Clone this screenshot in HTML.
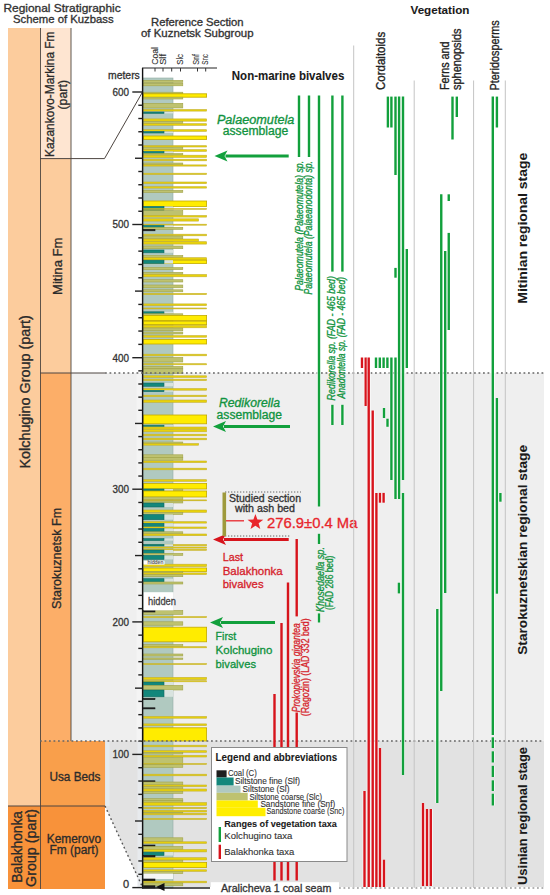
<!DOCTYPE html>
<html><head><meta charset="utf-8"><style>
html,body{margin:0;padding:0;background:#fff;}
svg{display:block;font-family:"Liberation Sans", sans-serif;}
</style></head><body>
<svg width="550" height="895" viewBox="0 0 550 895">
<rect width="550" height="895" fill="#fff"/>
<rect x="71" y="373" width="473" height="368" fill="#efefef" />
<polygon points="105,741 544,741 544,887 142,887 105,806" fill="#e2e2e2"/>
<rect x="136.5" y="373" width="6" height="368" fill="#f4f4f4" />
<rect x="137.5" y="741" width="5" height="146" fill="#e7eaed" />
<rect x="8" y="28" width="32" height="778" fill="#fccc9d" />
<rect x="8" y="806" width="32" height="83" fill="#f8923a" />
<rect x="40" y="28" width="31" height="130.6" fill="#fee5d1" />
<rect x="40" y="158.6" width="31" height="214.4" fill="#fccc9d" />
<rect x="40" y="373" width="31" height="368" fill="#fcae68" />
<rect x="40" y="741" width="65" height="65" fill="#f99f4b" />
<rect x="40" y="806" width="65" height="83" fill="#f8923a" />
<line x1="40.5" y1="28" x2="40.5" y2="889" stroke="#4d4540" stroke-width="0.9" />
<line x1="71" y1="28" x2="71" y2="741" stroke="#4d4540" stroke-width="0.9" />
<rect x="105.5" y="741.5" width="4" height="64.5" fill="#e4ebee" />
<line x1="40" y1="158.6" x2="104.5" y2="158.6" stroke="#4d4540" stroke-width="1" />
<line x1="104.5" y1="158.6" x2="142.5" y2="92" stroke="#4d4540" stroke-width="1" />
<line x1="40" y1="373" x2="105" y2="373" stroke="#4d4540" stroke-width="1" />
<line x1="8" y1="806" x2="105" y2="806" stroke="#4d4540" stroke-width="1" />
<line x1="105" y1="806" x2="142" y2="886" stroke="#555" stroke-width="1.4" stroke-dasharray="1.8 2.7"/>
<line x1="339" y1="888" x2="544" y2="888" stroke="#666" stroke-width="1.2" stroke-dasharray="1.8 2.7"/>
<text transform="translate(29.7,468.6) rotate(-90)" font-size="14.3" fill="#2b2b2b" stroke="#2b2b2b" stroke-width="0.32" textLength="153.5" lengthAdjust="spacingAndGlyphs" >Kolchugino Group (part)</text>
<text transform="translate(54,157) rotate(-90)" font-size="13" fill="#2b2b2b" stroke="#2b2b2b" stroke-width="0.32" textLength="125.5" lengthAdjust="spacingAndGlyphs" >Kazankovo-Markina Fm</text>
<text transform="translate(67.3,109.5) rotate(-90)" font-size="13" fill="#2b2b2b" stroke="#2b2b2b" stroke-width="0.32" textLength="29.5" lengthAdjust="spacingAndGlyphs" >(part)</text>
<text transform="translate(62,295) rotate(-90)" font-size="12.5" fill="#2b2b2b" stroke="#2b2b2b" stroke-width="0.32" textLength="57.5" lengthAdjust="spacingAndGlyphs" >Mitina Fm</text>
<text transform="translate(61,608.9) rotate(-90)" font-size="12.3" fill="#2b2b2b" stroke="#2b2b2b" stroke-width="0.32" textLength="101" lengthAdjust="spacingAndGlyphs" >Starokuznetsk Fm</text>
<text x="49.5" y="781.3" font-size="12.3" fill="#2b2b2b" stroke="#2b2b2b" stroke-width="0.32" textLength="51" lengthAdjust="spacingAndGlyphs" >Usa Beds</text>
<text x="46.8" y="842.7" font-size="12.3" fill="#2b2b2b" stroke="#2b2b2b" stroke-width="0.32" textLength="54.2" lengthAdjust="spacingAndGlyphs" >Kemerovo</text>
<text x="49.5" y="853.6" font-size="12.3" fill="#2b2b2b" stroke="#2b2b2b" stroke-width="0.32" textLength="49.1" lengthAdjust="spacingAndGlyphs" >Fm (part)</text>
<text transform="translate(22,882.8) rotate(-90)" font-size="14.5" fill="#2b2b2b" stroke="#2b2b2b" stroke-width="0.32" textLength="71.7" lengthAdjust="spacingAndGlyphs" >Balakhonka</text>
<text transform="translate(36.3,887) rotate(-90)" font-size="14.5" fill="#2b2b2b" stroke="#2b2b2b" stroke-width="0.32" textLength="78" lengthAdjust="spacingAndGlyphs" >Group (part)</text>
<text x="3.5" y="11.9" font-size="11" fill="#333" stroke="#333" stroke-width="0.32" textLength="117.2" lengthAdjust="spacingAndGlyphs" >Regional Stratigraphic</text>
<text x="13" y="22.9" font-size="11" fill="#333" stroke="#333" stroke-width="0.32" textLength="100.6" lengthAdjust="spacingAndGlyphs" >Scheme of Kuzbass</text>
<text x="151" y="25.6" font-size="10.5" fill="#333" stroke="#333" stroke-width="0.32" textLength="92.6" lengthAdjust="spacingAndGlyphs" >Reference Section</text>
<text x="141" y="36.9" font-size="10.5" fill="#333" stroke="#333" stroke-width="0.32" textLength="112.5" lengthAdjust="spacingAndGlyphs" >of Kuznetsk Subgroup</text>
<rect x="143.5" y="78" width="29.5" height="810" fill="#b0c9c0" stroke="#93aca4" stroke-width="0.6" />
<rect x="143.5" y="80.4" width="39.3" height="2.0" fill="#bec26f" stroke="#a2a346" stroke-width="0.6" />
<rect x="143.5" y="83.3" width="39.3" height="2.5" fill="#bec26f" stroke="#a2a346" stroke-width="0.6" />
<rect x="143.5" y="92.2" width="39.3" height="1.6" fill="#bec26f" stroke="#a2a346" stroke-width="0.6" />
<rect x="143.5" y="93.8" width="63.1" height="3.4" fill="#ffec00" stroke="#c2ab00" stroke-width="0.8" />
<rect x="143.5" y="97.2" width="39.3" height="1.8" fill="#bec26f" stroke="#a2a346" stroke-width="0.6" />
<rect x="143.5" y="103.3" width="39.3" height="4.7" fill="#bec26f" stroke="#a2a346" stroke-width="0.6" />
<rect x="143.5" y="109.5" width="63.1" height="1.6" fill="#e8d20a" stroke="#c3b02e" stroke-width="0.6" />
<rect x="143.5" y="112.0" width="29.5" height="1.4" fill="#d9e3df" />
<rect x="143.5" y="112.0" width="20.5" height="1.4" fill="#13877b" stroke="#0f6a61" stroke-width="0.6" />
<rect x="143.5" y="118.9" width="63.1" height="2.3" fill="#e8d20a" stroke="#c3b02e" stroke-width="0.6" />
<rect x="143.5" y="121.4" width="39.3" height="2.1" fill="#bec26f" stroke="#a2a346" stroke-width="0.6" />
<rect x="143.5" y="123.7" width="63.1" height="1.6" fill="#e8d20a" stroke="#c3b02e" stroke-width="0.6" />
<rect x="143.5" y="129.7" width="63.1" height="1.6" fill="#e8d20a" stroke="#c3b02e" stroke-width="0.6" />
<rect x="143.5" y="131.6" width="29.5" height="1.4" fill="#d9e3df" />
<rect x="143.5" y="131.6" width="20.5" height="1.4" fill="#13877b" stroke="#0f6a61" stroke-width="0.6" />
<rect x="143.5" y="136.0" width="63.1" height="3.4" fill="#ffec00" stroke="#c2ab00" stroke-width="0.8" />
<rect x="143.5" y="145.7" width="63.1" height="1.3" fill="#e8d20a" stroke="#c3b02e" stroke-width="0.6" />
<rect x="143.5" y="147.2" width="39.3" height="2.3" fill="#bec26f" stroke="#a2a346" stroke-width="0.6" />
<rect x="143.5" y="149.7" width="63.1" height="1.6" fill="#e8d20a" stroke="#c3b02e" stroke-width="0.6" />
<rect x="143.5" y="151.5" width="29.5" height="2.0" fill="#d9e3df" />
<rect x="143.5" y="151.5" width="20.5" height="2.0" fill="#13877b" stroke="#0f6a61" stroke-width="0.6" />
<rect x="143.5" y="153.5" width="39.3" height="1.5" fill="#bec26f" stroke="#a2a346" stroke-width="0.6" />
<rect x="143.5" y="155.2" width="63.1" height="2.2" fill="#e8d20a" stroke="#c3b02e" stroke-width="0.6" />
<rect x="143.5" y="159.2" width="63.1" height="1.6" fill="#e8d20a" stroke="#c3b02e" stroke-width="0.6" />
<rect x="143.5" y="163.0" width="39.3" height="1.7" fill="#bec26f" stroke="#a2a346" stroke-width="0.6" />
<rect x="143.5" y="164.9" width="63.1" height="1.2" fill="#e8d20a" stroke="#c3b02e" stroke-width="0.6" />
<rect x="143.5" y="173.2" width="63.1" height="1.3" fill="#e8d20a" stroke="#c3b02e" stroke-width="0.6" />
<rect x="143.5" y="182.0" width="63.1" height="1.6" fill="#e8d20a" stroke="#c3b02e" stroke-width="0.6" />
<rect x="143.5" y="186.7" width="63.1" height="1.4" fill="#e8d20a" stroke="#c3b02e" stroke-width="0.6" />
<rect x="143.5" y="190.4" width="39.3" height="2.0" fill="#bec26f" stroke="#a2a346" stroke-width="0.6" />
<rect x="143.5" y="201.0" width="63.1" height="5.5" fill="#ffec00" stroke="#c2ab00" stroke-width="0.8" />
<rect x="143.5" y="206.5" width="29.5" height="4.1" fill="#d9e3df" />
<rect x="143.5" y="206.5" width="20.5" height="4.1" fill="#13877b" stroke="#0f6a61" stroke-width="0.6" />
<rect x="143.5" y="208.5" width="63.1" height="0.8" fill="#e8d20a" stroke="#c3b02e" stroke-width="0.6" />
<rect x="143.5" y="210.6" width="39.3" height="4.7" fill="#bec26f" stroke="#a2a346" stroke-width="0.6" />
<rect x="143.5" y="215.5" width="63.1" height="1.6" fill="#e8d20a" stroke="#c3b02e" stroke-width="0.6" />
<rect x="143.5" y="218.8" width="55.1" height="2.3" fill="#e8d20a" stroke="#c3b02e" stroke-width="0.6" />
<rect x="143.5" y="224.2" width="63.1" height="1.0" fill="#e8d20a" stroke="#c3b02e" stroke-width="0.6" />
<rect x="143.5" y="225.4" width="29.5" height="2.0" fill="#d9e3df" />
<rect x="143.5" y="225.4" width="20.5" height="2.0" fill="#13877b" stroke="#0f6a61" stroke-width="0.6" />
<rect x="143.5" y="227.4" width="39.3" height="2.0" fill="#bec26f" stroke="#a2a346" stroke-width="0.6" />
<rect x="143.5" y="229.4" width="11.5" height="1.4" fill="#1e1e1e" stroke="#111" stroke-width="0.6" />
<rect x="143.5" y="234.2" width="63.1" height="1.6" fill="#e8d20a" stroke="#c3b02e" stroke-width="0.6" />
<rect x="143.5" y="236.0" width="39.3" height="2.8" fill="#bec26f" stroke="#a2a346" stroke-width="0.6" />
<rect x="143.5" y="239.0" width="55.1" height="2.3" fill="#e8d20a" stroke="#c3b02e" stroke-width="0.6" />
<rect x="143.5" y="241.7" width="63.1" height="2.4" fill="#e8d20a" stroke="#c3b02e" stroke-width="0.6" />
<rect x="143.5" y="246.0" width="39.3" height="2.7" fill="#bec26f" stroke="#a2a346" stroke-width="0.6" />
<rect x="143.5" y="250.0" width="29.5" height="2.8" fill="#d9e3df" />
<rect x="143.5" y="250.0" width="20.5" height="2.8" fill="#13877b" stroke="#0f6a61" stroke-width="0.6" />
<rect x="143.5" y="255.5" width="39.3" height="2.0" fill="#bec26f" stroke="#a2a346" stroke-width="0.6" />
<rect x="143.5" y="257.7" width="63.1" height="2.3" fill="#e8d20a" stroke="#c3b02e" stroke-width="0.6" />
<rect x="143.5" y="260.2" width="63.1" height="3.3" fill="#ffec00" stroke="#c2ab00" stroke-width="0.8" />
<rect x="143.5" y="260.2" width="29.5" height="3.3" fill="#d9e3df" />
<rect x="143.5" y="260.2" width="20.5" height="3.3" fill="#13877b" stroke="#0f6a61" stroke-width="0.6" />
<rect x="143.5" y="267.6" width="39.3" height="2.0" fill="#bec26f" stroke="#a2a346" stroke-width="0.6" />
<rect x="143.5" y="272.3" width="39.3" height="2.0" fill="#bec26f" stroke="#a2a346" stroke-width="0.6" />
<rect x="143.5" y="274.5" width="63.1" height="2.3" fill="#e8d20a" stroke="#c3b02e" stroke-width="0.6" />
<rect x="143.5" y="279.7" width="39.3" height="2.3" fill="#bec26f" stroke="#a2a346" stroke-width="0.6" />
<rect x="143.5" y="285.0" width="39.3" height="2.8" fill="#bec26f" stroke="#a2a346" stroke-width="0.6" />
<rect x="143.5" y="289.8" width="39.3" height="2.0" fill="#bec26f" stroke="#a2a346" stroke-width="0.6" />
<rect x="143.5" y="293.4" width="63.1" height="1.2" fill="#e8d20a" stroke="#c3b02e" stroke-width="0.6" />
<rect x="143.5" y="303.9" width="63.1" height="1.7" fill="#e8d20a" stroke="#c3b02e" stroke-width="0.6" />
<rect x="143.5" y="308.0" width="63.1" height="0.9" fill="#e8d20a" stroke="#c3b02e" stroke-width="0.6" />
<rect x="143.5" y="311.8" width="29.5" height="2.0" fill="#d9e3df" />
<rect x="143.5" y="311.8" width="20.5" height="2.0" fill="#13877b" stroke="#0f6a61" stroke-width="0.6" />
<rect x="143.5" y="313.8" width="39.3" height="1.7" fill="#bec26f" stroke="#a2a346" stroke-width="0.6" />
<rect x="143.5" y="315.5" width="63.1" height="5.1" fill="#ffec00" stroke="#c2ab00" stroke-width="0.8" />
<rect x="143.5" y="321.2" width="63.1" height="3.4" fill="#ffec00" stroke="#c2ab00" stroke-width="0.8" />
<rect x="143.5" y="325.2" width="63.1" height="2.6" fill="#e8d20a" stroke="#c3b02e" stroke-width="0.6" />
<rect x="143.5" y="328.0" width="39.3" height="2.7" fill="#bec26f" stroke="#a2a346" stroke-width="0.6" />
<rect x="143.5" y="332.0" width="39.3" height="2.0" fill="#bec26f" stroke="#a2a346" stroke-width="0.6" />
<rect x="143.5" y="335.6" width="63.1" height="1.6" fill="#e8d20a" stroke="#c3b02e" stroke-width="0.6" />
<rect x="143.5" y="339.4" width="63.1" height="4.6" fill="#ffec00" stroke="#c2ab00" stroke-width="0.8" />
<rect x="143.5" y="354.2" width="63.1" height="1.6" fill="#e8d20a" stroke="#c3b02e" stroke-width="0.6" />
<rect x="143.5" y="357.4" width="39.3" height="4.6" fill="#bec26f" stroke="#a2a346" stroke-width="0.6" />
<rect x="143.5" y="363.7" width="63.1" height="1.1" fill="#e8d20a" stroke="#c3b02e" stroke-width="0.6" />
<rect x="143.5" y="366.4" width="39.3" height="2.4" fill="#bec26f" stroke="#a2a346" stroke-width="0.6" />
<rect x="143.5" y="368.8" width="39.3" height="4.7" fill="#bec26f" stroke="#a2a346" stroke-width="0.6" />
<rect x="143.5" y="375.8" width="63.1" height="1.6" fill="#e8d20a" stroke="#c3b02e" stroke-width="0.6" />
<rect x="143.5" y="379.2" width="63.1" height="1.3" fill="#e8d20a" stroke="#c3b02e" stroke-width="0.6" />
<rect x="143.5" y="383.0" width="29.5" height="3.3" fill="#d9e3df" />
<rect x="143.5" y="383.0" width="20.5" height="3.3" fill="#13877b" stroke="#0f6a61" stroke-width="0.6" />
<rect x="143.5" y="388.6" width="63.1" height="1.6" fill="#e8d20a" stroke="#c3b02e" stroke-width="0.6" />
<rect x="143.5" y="390.4" width="29.5" height="1.3" fill="#d9e3df" />
<rect x="143.5" y="390.4" width="20.5" height="1.3" fill="#13877b" stroke="#0f6a61" stroke-width="0.6" />
<rect x="143.5" y="395.2" width="63.1" height="1.4" fill="#e8d20a" stroke="#c3b02e" stroke-width="0.6" />
<rect x="143.5" y="400.0" width="63.1" height="2.3" fill="#e8d20a" stroke="#c3b02e" stroke-width="0.6" />
<rect x="143.5" y="415.0" width="63.1" height="8.8" fill="#ffec00" stroke="#c2ab00" stroke-width="0.8" />
<rect x="143.5" y="425.2" width="29.5" height="1.6" fill="#d9e3df" />
<rect x="143.5" y="425.2" width="20.5" height="1.6" fill="#13877b" stroke="#0f6a61" stroke-width="0.6" />
<rect x="143.5" y="427.0" width="63.1" height="2.0" fill="#e8d20a" stroke="#c3b02e" stroke-width="0.6" />
<rect x="143.5" y="429.4" width="63.1" height="2.4" fill="#e8d20a" stroke="#c3b02e" stroke-width="0.6" />
<rect x="143.5" y="434.2" width="63.1" height="1.6" fill="#e8d20a" stroke="#c3b02e" stroke-width="0.6" />
<rect x="143.5" y="438.2" width="63.1" height="1.6" fill="#e8d20a" stroke="#c3b02e" stroke-width="0.6" />
<rect x="143.5" y="442.0" width="39.3" height="1.4" fill="#bec26f" stroke="#a2a346" stroke-width="0.6" />
<rect x="143.5" y="443.6" width="55.1" height="1.6" fill="#e8d20a" stroke="#c3b02e" stroke-width="0.6" />
<rect x="143.5" y="454.8" width="39.3" height="2.7" fill="#bec26f" stroke="#a2a346" stroke-width="0.6" />
<rect x="143.5" y="457.5" width="39.3" height="2.7" fill="#bec26f" stroke="#a2a346" stroke-width="0.6" />
<rect x="143.5" y="461.0" width="63.1" height="1.6" fill="#e8d20a" stroke="#c3b02e" stroke-width="0.6" />
<rect x="143.5" y="468.2" width="63.1" height="1.6" fill="#e8d20a" stroke="#c3b02e" stroke-width="0.6" />
<rect x="143.5" y="479.7" width="63.1" height="1.6" fill="#e8d20a" stroke="#c3b02e" stroke-width="0.6" />
<rect x="143.5" y="483.5" width="63.1" height="5.5" fill="#ffec00" stroke="#c2ab00" stroke-width="0.8" />
<rect x="143.5" y="489.0" width="39.3" height="2.0" fill="#bec26f" stroke="#a2a346" stroke-width="0.6" />
<rect x="143.5" y="489.0" width="29.5" height="2.0" fill="#d9e3df" />
<rect x="143.5" y="489.0" width="20.5" height="2.0" fill="#13877b" stroke="#0f6a61" stroke-width="0.6" />
<rect x="143.5" y="491.0" width="63.1" height="6.0" fill="#ffec00" stroke="#c2ab00" stroke-width="0.8" />
<rect x="143.5" y="497.0" width="39.3" height="2.7" fill="#bec26f" stroke="#a2a346" stroke-width="0.6" />
<rect x="143.5" y="499.9" width="63.1" height="0.9" fill="#e8d20a" stroke="#c3b02e" stroke-width="0.6" />
<rect x="143.5" y="501.0" width="39.3" height="2.0" fill="#bec26f" stroke="#a2a346" stroke-width="0.6" />
<rect x="143.5" y="503.0" width="29.5" height="4.0" fill="#d9e3df" />
<rect x="143.5" y="503.0" width="20.5" height="4.0" fill="#13877b" stroke="#0f6a61" stroke-width="0.6" />
<rect x="143.5" y="510.0" width="63.1" height="2.3" fill="#e8d20a" stroke="#c3b02e" stroke-width="0.6" />
<rect x="143.5" y="512.5" width="39.3" height="2.0" fill="#bec26f" stroke="#a2a346" stroke-width="0.6" />
<rect x="143.5" y="514.5" width="29.5" height="5.2" fill="#d9e3df" />
<rect x="143.5" y="514.5" width="20.5" height="5.2" fill="#13877b" stroke="#0f6a61" stroke-width="0.6" />
<rect x="143.5" y="521.7" width="63.1" height="1.4" fill="#e8d20a" stroke="#c3b02e" stroke-width="0.6" />
<rect x="143.5" y="523.3" width="29.5" height="3.5" fill="#d9e3df" />
<rect x="143.5" y="523.3" width="20.5" height="3.5" fill="#13877b" stroke="#0f6a61" stroke-width="0.6" />
<rect x="143.5" y="527.0" width="63.1" height="1.3" fill="#e8d20a" stroke="#c3b02e" stroke-width="0.6" />
<rect x="143.5" y="528.5" width="29.5" height="3.3" fill="#d9e3df" />
<rect x="143.5" y="528.5" width="20.5" height="3.3" fill="#13877b" stroke="#0f6a61" stroke-width="0.6" />
<rect x="143.5" y="531.8" width="39.3" height="2.0" fill="#bec26f" stroke="#a2a346" stroke-width="0.6" />
<rect x="143.5" y="534.0" width="63.1" height="1.7" fill="#e8d20a" stroke="#c3b02e" stroke-width="0.6" />
<rect x="143.5" y="538.5" width="29.5" height="2.1" fill="#d9e3df" />
<rect x="143.5" y="538.5" width="20.5" height="2.1" fill="#13877b" stroke="#0f6a61" stroke-width="0.6" />
<rect x="143.5" y="544.5" width="63.1" height="1.3" fill="#e8d20a" stroke="#c3b02e" stroke-width="0.6" />
<rect x="143.5" y="544.3" width="29.5" height="1.7" fill="#d9e3df" />
<rect x="143.5" y="544.3" width="20.5" height="1.7" fill="#13877b" stroke="#0f6a61" stroke-width="0.6" />
<rect x="143.5" y="547.0" width="63.1" height="1.1" fill="#e8d20a" stroke="#c3b02e" stroke-width="0.6" />
<rect x="143.5" y="549.2" width="63.1" height="1.1" fill="#e8d20a" stroke="#c3b02e" stroke-width="0.6" />
<rect x="143.5" y="550.0" width="29.5" height="3.4" fill="#d9e3df" />
<rect x="143.5" y="550.0" width="20.5" height="3.4" fill="#13877b" stroke="#0f6a61" stroke-width="0.6" />
<rect x="143.5" y="553.4" width="39.3" height="2.0" fill="#bec26f" stroke="#a2a346" stroke-width="0.6" />
<rect x="143.5" y="555.4" width="29.5" height="4.0" fill="#d9e3df" />
<rect x="143.5" y="555.4" width="20.5" height="4.0" fill="#13877b" stroke="#0f6a61" stroke-width="0.6" />
<rect x="143.5" y="564.2" width="63.1" height="2.4" fill="#e8d20a" stroke="#c3b02e" stroke-width="0.6" />
<rect x="143.5" y="568.0" width="63.1" height="3.5" fill="#ffec00" stroke="#c2ab00" stroke-width="0.8" />
<rect x="143.5" y="571.5" width="39.3" height="1.2" fill="#bec26f" stroke="#a2a346" stroke-width="0.6" />
<rect x="143.5" y="572.9" width="63.1" height="1.6" fill="#e8d20a" stroke="#c3b02e" stroke-width="0.6" />
<rect x="143.5" y="574.7" width="39.3" height="2.0" fill="#bec26f" stroke="#a2a346" stroke-width="0.6" />
<rect x="143.5" y="578.7" width="29.5" height="3.3" fill="#d9e3df" />
<rect x="143.5" y="578.7" width="20.5" height="3.3" fill="#13877b" stroke="#0f6a61" stroke-width="0.6" />
<rect x="143.5" y="582.0" width="39.3" height="2.0" fill="#bec26f" stroke="#a2a346" stroke-width="0.6" />
<rect x="143.5" y="610.4" width="39.3" height="4.0" fill="#bec26f" stroke="#a2a346" stroke-width="0.6" />
<rect x="143.5" y="610.4" width="11.5" height="1.6" fill="#1e1e1e" stroke="#111" stroke-width="0.6" />
<rect x="143.5" y="616.6" width="63.1" height="1.0" fill="#e8d20a" stroke="#c3b02e" stroke-width="0.6" />
<rect x="143.5" y="621.8" width="39.3" height="3.4" fill="#bec26f" stroke="#a2a346" stroke-width="0.6" />
<rect x="143.5" y="627.2" width="63.1" height="14.6" fill="#ffec00" stroke="#c2ab00" stroke-width="0.8" />
<rect x="143.5" y="644.5" width="39.3" height="2.0" fill="#bec26f" stroke="#a2a346" stroke-width="0.6" />
<rect x="143.5" y="646.7" width="63.1" height="1.1" fill="#e8d20a" stroke="#c3b02e" stroke-width="0.6" />
<rect x="143.5" y="654.0" width="39.3" height="2.0" fill="#bec26f" stroke="#a2a346" stroke-width="0.6" />
<rect x="143.5" y="658.0" width="39.3" height="1.3" fill="#bec26f" stroke="#a2a346" stroke-width="0.6" />
<rect x="143.5" y="663.6" width="63.1" height="0.9" fill="#e8d20a" stroke="#c3b02e" stroke-width="0.6" />
<rect x="143.5" y="677.4" width="63.1" height="2.2" fill="#e8d20a" stroke="#c3b02e" stroke-width="0.6" />
<rect x="143.5" y="680.7" width="63.1" height="1.1" fill="#e8d20a" stroke="#c3b02e" stroke-width="0.6" />
<rect x="143.5" y="682.0" width="29.5" height="3.4" fill="#d9e3df" />
<rect x="143.5" y="682.0" width="20.5" height="3.4" fill="#13877b" stroke="#0f6a61" stroke-width="0.6" />
<rect x="143.5" y="685.4" width="39.3" height="4.6" fill="#bec26f" stroke="#a2a346" stroke-width="0.6" />
<rect x="143.5" y="690.0" width="29.5" height="6.8" fill="#d9e3df" />
<rect x="143.5" y="690.0" width="20.5" height="6.8" fill="#13877b" stroke="#0f6a61" stroke-width="0.6" />
<rect x="143.5" y="698.4" width="11.5" height="1.2" fill="#1e1e1e" stroke="#111" stroke-width="0.6" />
<rect x="143.5" y="707.8" width="11.5" height="1.1" fill="#1e1e1e" stroke="#111" stroke-width="0.6" />
<rect x="143.5" y="716.5" width="63.1" height="1.7" fill="#e8d20a" stroke="#c3b02e" stroke-width="0.6" />
<rect x="143.5" y="723.9" width="63.1" height="1.7" fill="#e8d20a" stroke="#c3b02e" stroke-width="0.6" />
<rect x="143.5" y="727.8" width="63.1" height="13.2" fill="#ffec00" stroke="#c2ab00" stroke-width="0.8" />
<rect x="143.5" y="745.2" width="63.1" height="1.6" fill="#e8d20a" stroke="#c3b02e" stroke-width="0.6" />
<rect x="143.5" y="750.7" width="63.1" height="1.6" fill="#e8d20a" stroke="#c3b02e" stroke-width="0.6" />
<rect x="143.5" y="752.5" width="39.3" height="1.5" fill="#bec26f" stroke="#a2a346" stroke-width="0.6" />
<rect x="143.5" y="755.4" width="63.1" height="1.6" fill="#e8d20a" stroke="#c3b02e" stroke-width="0.6" />
<rect x="143.5" y="757.2" width="39.3" height="6.1" fill="#bec26f" stroke="#a2a346" stroke-width="0.6" />
<rect x="143.5" y="763.5" width="63.1" height="0.9" fill="#e8d20a" stroke="#c3b02e" stroke-width="0.6" />
<rect x="143.5" y="764.6" width="39.3" height="2.7" fill="#bec26f" stroke="#a2a346" stroke-width="0.6" />
<rect x="143.5" y="774.2" width="63.1" height="1.6" fill="#e8d20a" stroke="#c3b02e" stroke-width="0.6" />
<rect x="143.5" y="780.8" width="11.5" height="1.2" fill="#1e1e1e" stroke="#111" stroke-width="0.6" />
<rect x="143.5" y="782.0" width="39.3" height="2.8" fill="#bec26f" stroke="#a2a346" stroke-width="0.6" />
<rect x="143.5" y="785.0" width="63.1" height="1.6" fill="#e8d20a" stroke="#c3b02e" stroke-width="0.6" />
<rect x="143.5" y="786.8" width="39.3" height="2.0" fill="#bec26f" stroke="#a2a346" stroke-width="0.6" />
<rect x="143.5" y="789.0" width="63.1" height="2.1" fill="#e8d20a" stroke="#c3b02e" stroke-width="0.6" />
<rect x="143.5" y="791.3" width="39.3" height="2.1" fill="#bec26f" stroke="#a2a346" stroke-width="0.6" />
<rect x="143.5" y="798.7" width="39.3" height="2.1" fill="#bec26f" stroke="#a2a346" stroke-width="0.6" />
<rect x="143.5" y="800.8" width="39.3" height="1.6" fill="#bec26f" stroke="#a2a346" stroke-width="0.6" />
<rect x="143.5" y="802.6" width="63.1" height="2.7" fill="#e8d20a" stroke="#c3b02e" stroke-width="0.6" />
<rect x="143.5" y="807.4" width="63.1" height="1.2" fill="#e8d20a" stroke="#c3b02e" stroke-width="0.6" />
<rect x="143.5" y="810.4" width="63.1" height="1.6" fill="#e8d20a" stroke="#c3b02e" stroke-width="0.6" />
<rect x="143.5" y="812.2" width="39.3" height="0.9" fill="#bec26f" stroke="#a2a346" stroke-width="0.6" />
<rect x="143.5" y="813.3" width="63.1" height="1.5" fill="#e8d20a" stroke="#c3b02e" stroke-width="0.6" />
<rect x="143.5" y="818.5" width="63.1" height="0.9" fill="#e8d20a" stroke="#c3b02e" stroke-width="0.6" />
<rect x="143.5" y="837.8" width="39.3" height="3.8" fill="#bec26f" stroke="#a2a346" stroke-width="0.6" />
<rect x="143.5" y="841.8" width="63.1" height="1.6" fill="#e8d20a" stroke="#c3b02e" stroke-width="0.6" />
<rect x="143.5" y="845.0" width="11.5" height="1.5" fill="#1e1e1e" stroke="#111" stroke-width="0.6" />
<rect x="143.5" y="846.5" width="39.3" height="2.9" fill="#bec26f" stroke="#a2a346" stroke-width="0.6" />
<rect x="143.5" y="849.6" width="63.1" height="2.3" fill="#e8d20a" stroke="#c3b02e" stroke-width="0.6" />
<rect x="143.5" y="852.1" width="29.5" height="3.4" fill="#d9e3df" />
<rect x="143.5" y="852.1" width="20.5" height="3.4" fill="#13877b" stroke="#0f6a61" stroke-width="0.6" />
<rect x="143.5" y="855.5" width="11.5" height="2.0" fill="#1e1e1e" stroke="#111" stroke-width="0.6" />
<rect x="143.5" y="857.7" width="63.1" height="2.3" fill="#e8d20a" stroke="#c3b02e" stroke-width="0.6" />
<rect x="143.5" y="860.2" width="39.3" height="2.4" fill="#bec26f" stroke="#a2a346" stroke-width="0.6" />
<rect x="143.5" y="862.6" width="63.1" height="5.0" fill="#ffec00" stroke="#c2ab00" stroke-width="0.8" />
<rect x="143.5" y="869.8" width="63.1" height="1.5" fill="#e8d20a" stroke="#c3b02e" stroke-width="0.6" />
<rect x="143.5" y="871.5" width="39.3" height="2.1" fill="#bec26f" stroke="#a2a346" stroke-width="0.6" />
<rect x="143.5" y="873.6" width="29.5" height="5.399999999999977" fill="#f4f6f5" />
<rect x="143.5" y="879.0" width="11.5" height="2.0" fill="#1e1e1e" stroke="#111" stroke-width="0.6" />
<rect x="143.5" y="881.2" width="63.1" height="1.6" fill="#e8d20a" stroke="#c3b02e" stroke-width="0.6" />
<rect x="143.5" y="883.0" width="39.3" height="2.8" fill="#bec26f" stroke="#a2a346" stroke-width="0.6" />
<rect x="143.5" y="885.8" width="11.5" height="2.2" fill="#1e1e1e" stroke="#111" stroke-width="0.6" />
<rect x="143.5" y="592.2" width="30.0" height="18.2" fill="#ffffff" />
<text x="148" y="605" font-size="11" fill="#444" stroke="#444" stroke-width="0.32" textLength="28" lengthAdjust="spacingAndGlyphs" >hidden</text>
<rect x="143.5" y="560.8" width="21" height="3.8" fill="#ffffff" />
<text x="147.5" y="564.2" font-size="4.5" fill="#555" stroke="#555" stroke-width="0.12" textLength="16" lengthAdjust="spacingAndGlyphs" >hidden</text>
<line x1="142.6" y1="68" x2="142.6" y2="888.5" stroke="#111" stroke-width="1.4" />
<line x1="142" y1="68" x2="217" y2="68" stroke="#222" stroke-width="1" />
<line x1="142" y1="888" x2="210" y2="888" stroke="#222" stroke-width="1.4" />
<line x1="155" y1="68" x2="155" y2="71.5" stroke="#333" stroke-width="1" />
<line x1="163" y1="68" x2="163" y2="71.5" stroke="#333" stroke-width="1" />
<line x1="171.7" y1="68" x2="171.7" y2="71.5" stroke="#333" stroke-width="1" />
<line x1="180.5" y1="68" x2="180.5" y2="71.5" stroke="#333" stroke-width="1" />
<line x1="197.5" y1="68" x2="197.5" y2="71.5" stroke="#333" stroke-width="1" />
<line x1="205.7" y1="68" x2="205.7" y2="71.5" stroke="#333" stroke-width="1" />
<line x1="132.3" y1="887.6" x2="142.6" y2="887.6" stroke="#222" stroke-width="1.4" />
<line x1="138.3" y1="874.28" x2="142.6" y2="874.28" stroke="#222" stroke-width="1.4" />
<line x1="138.3" y1="860.96" x2="142.6" y2="860.96" stroke="#222" stroke-width="1.4" />
<line x1="138.3" y1="847.64" x2="142.6" y2="847.64" stroke="#222" stroke-width="1.4" />
<line x1="138.3" y1="834.32" x2="142.6" y2="834.32" stroke="#222" stroke-width="1.4" />
<line x1="135" y1="821.0" x2="142.6" y2="821.0" stroke="#222" stroke-width="1.4" />
<line x1="138.3" y1="807.68" x2="142.6" y2="807.68" stroke="#222" stroke-width="1.4" />
<line x1="138.3" y1="794.36" x2="142.6" y2="794.36" stroke="#222" stroke-width="1.4" />
<line x1="138.3" y1="781.04" x2="142.6" y2="781.04" stroke="#222" stroke-width="1.4" />
<line x1="138.3" y1="767.72" x2="142.6" y2="767.72" stroke="#222" stroke-width="1.4" />
<line x1="132.3" y1="754.4" x2="142.6" y2="754.4" stroke="#222" stroke-width="1.4" />
<line x1="138.3" y1="741.15" x2="142.6" y2="741.15" stroke="#222" stroke-width="1.4" />
<line x1="138.3" y1="727.9" x2="142.6" y2="727.9" stroke="#222" stroke-width="1.4" />
<line x1="138.3" y1="714.65" x2="142.6" y2="714.65" stroke="#222" stroke-width="1.4" />
<line x1="138.3" y1="701.4" x2="142.6" y2="701.4" stroke="#222" stroke-width="1.4" />
<line x1="135" y1="688.15" x2="142.6" y2="688.15" stroke="#222" stroke-width="1.4" />
<line x1="138.3" y1="674.9" x2="142.6" y2="674.9" stroke="#222" stroke-width="1.4" />
<line x1="138.3" y1="661.65" x2="142.6" y2="661.65" stroke="#222" stroke-width="1.4" />
<line x1="138.3" y1="648.4" x2="142.6" y2="648.4" stroke="#222" stroke-width="1.4" />
<line x1="138.3" y1="635.15" x2="142.6" y2="635.15" stroke="#222" stroke-width="1.4" />
<line x1="132.3" y1="621.9" x2="142.6" y2="621.9" stroke="#222" stroke-width="1.4" />
<line x1="138.3" y1="608.63" x2="142.6" y2="608.63" stroke="#222" stroke-width="1.4" />
<line x1="138.3" y1="595.36" x2="142.6" y2="595.36" stroke="#222" stroke-width="1.4" />
<line x1="138.3" y1="582.09" x2="142.6" y2="582.09" stroke="#222" stroke-width="1.4" />
<line x1="138.3" y1="568.82" x2="142.6" y2="568.82" stroke="#222" stroke-width="1.4" />
<line x1="135" y1="555.55" x2="142.6" y2="555.55" stroke="#222" stroke-width="1.4" />
<line x1="138.3" y1="542.28" x2="142.6" y2="542.28" stroke="#222" stroke-width="1.4" />
<line x1="138.3" y1="529.01" x2="142.6" y2="529.01" stroke="#222" stroke-width="1.4" />
<line x1="138.3" y1="515.74" x2="142.6" y2="515.74" stroke="#222" stroke-width="1.4" />
<line x1="138.3" y1="502.47" x2="142.6" y2="502.47" stroke="#222" stroke-width="1.4" />
<line x1="132.3" y1="489.2" x2="142.6" y2="489.2" stroke="#222" stroke-width="1.4" />
<line x1="138.3" y1="476.05" x2="142.6" y2="476.05" stroke="#222" stroke-width="1.4" />
<line x1="138.3" y1="462.9" x2="142.6" y2="462.9" stroke="#222" stroke-width="1.4" />
<line x1="138.3" y1="449.75" x2="142.6" y2="449.75" stroke="#222" stroke-width="1.4" />
<line x1="138.3" y1="436.6" x2="142.6" y2="436.6" stroke="#222" stroke-width="1.4" />
<line x1="135" y1="423.45" x2="142.6" y2="423.45" stroke="#222" stroke-width="1.4" />
<line x1="138.3" y1="410.3" x2="142.6" y2="410.3" stroke="#222" stroke-width="1.4" />
<line x1="138.3" y1="397.15" x2="142.6" y2="397.15" stroke="#222" stroke-width="1.4" />
<line x1="138.3" y1="384.0" x2="142.6" y2="384.0" stroke="#222" stroke-width="1.4" />
<line x1="138.3" y1="370.85" x2="142.6" y2="370.85" stroke="#222" stroke-width="1.4" />
<line x1="132.3" y1="357.7" x2="142.6" y2="357.7" stroke="#222" stroke-width="1.4" />
<line x1="138.3" y1="344.38" x2="142.6" y2="344.38" stroke="#222" stroke-width="1.4" />
<line x1="138.3" y1="331.06" x2="142.6" y2="331.06" stroke="#222" stroke-width="1.4" />
<line x1="138.3" y1="317.74" x2="142.6" y2="317.74" stroke="#222" stroke-width="1.4" />
<line x1="138.3" y1="304.42" x2="142.6" y2="304.42" stroke="#222" stroke-width="1.4" />
<line x1="135" y1="291.1" x2="142.6" y2="291.1" stroke="#222" stroke-width="1.4" />
<line x1="138.3" y1="277.78" x2="142.6" y2="277.78" stroke="#222" stroke-width="1.4" />
<line x1="138.3" y1="264.46" x2="142.6" y2="264.46" stroke="#222" stroke-width="1.4" />
<line x1="138.3" y1="251.14" x2="142.6" y2="251.14" stroke="#222" stroke-width="1.4" />
<line x1="138.3" y1="237.82" x2="142.6" y2="237.82" stroke="#222" stroke-width="1.4" />
<line x1="132.3" y1="224.5" x2="142.6" y2="224.5" stroke="#222" stroke-width="1.4" />
<line x1="138.3" y1="211.25" x2="142.6" y2="211.25" stroke="#222" stroke-width="1.4" />
<line x1="138.3" y1="198.0" x2="142.6" y2="198.0" stroke="#222" stroke-width="1.4" />
<line x1="138.3" y1="184.75" x2="142.6" y2="184.75" stroke="#222" stroke-width="1.4" />
<line x1="138.3" y1="171.5" x2="142.6" y2="171.5" stroke="#222" stroke-width="1.4" />
<line x1="135" y1="158.25" x2="142.6" y2="158.25" stroke="#222" stroke-width="1.4" />
<line x1="138.3" y1="145.0" x2="142.6" y2="145.0" stroke="#222" stroke-width="1.4" />
<line x1="138.3" y1="131.75" x2="142.6" y2="131.75" stroke="#222" stroke-width="1.4" />
<line x1="138.3" y1="118.5" x2="142.6" y2="118.5" stroke="#222" stroke-width="1.4" />
<line x1="138.3" y1="105.25" x2="142.6" y2="105.25" stroke="#222" stroke-width="1.4" />
<line x1="132.3" y1="92.0" x2="142.6" y2="92.0" stroke="#222" stroke-width="1.4" />
<text x="129" y="888.3" font-size="11" fill="#333" stroke="#333" stroke-width="0.32" text-anchor="end" >0</text>
<text x="129" y="758.3" font-size="11" fill="#333" stroke="#333" stroke-width="0.32" text-anchor="end" textLength="16.5" lengthAdjust="spacingAndGlyphs" >100</text>
<text x="129" y="625.8" font-size="11" fill="#333" stroke="#333" stroke-width="0.32" text-anchor="end" textLength="16.5" lengthAdjust="spacingAndGlyphs" >200</text>
<text x="129" y="493.09999999999997" font-size="11" fill="#333" stroke="#333" stroke-width="0.32" text-anchor="end" textLength="16.5" lengthAdjust="spacingAndGlyphs" >300</text>
<text x="129" y="361.59999999999997" font-size="11" fill="#333" stroke="#333" stroke-width="0.32" text-anchor="end" textLength="16.5" lengthAdjust="spacingAndGlyphs" >400</text>
<text x="129" y="228.4" font-size="11" fill="#333" stroke="#333" stroke-width="0.32" text-anchor="end" textLength="16.5" lengthAdjust="spacingAndGlyphs" >500</text>
<text x="129" y="95.9" font-size="11" fill="#333" stroke="#333" stroke-width="0.32" text-anchor="end" textLength="16.5" lengthAdjust="spacingAndGlyphs" >600</text>
<text x="108" y="79.3" font-size="11" fill="#333" stroke="#333" stroke-width="0.32" textLength="31.8" lengthAdjust="spacingAndGlyphs" >meters</text>
<text transform="translate(158,64.8) rotate(-90)" font-size="9" fill="#333" stroke="#333" stroke-width="0.12" textLength="17.8" lengthAdjust="spacingAndGlyphs" >Coal</text>
<text transform="translate(166.3,64.8) rotate(-90)" font-size="9" fill="#333" stroke="#333" stroke-width="0.12" textLength="10.8" lengthAdjust="spacingAndGlyphs" >Slf</text>
<text transform="translate(183.2,64.8) rotate(-90)" font-size="9" fill="#333" stroke="#333" stroke-width="0.12" textLength="10.8" lengthAdjust="spacingAndGlyphs" >Slc</text>
<text transform="translate(199,64.8) rotate(-90)" font-size="9" fill="#333" stroke="#333" stroke-width="0.12" textLength="10.8" lengthAdjust="spacingAndGlyphs" >Snf</text>
<text transform="translate(207.7,64.8) rotate(-90)" font-size="9" fill="#333" stroke="#333" stroke-width="0.12" textLength="10.8" lengthAdjust="spacingAndGlyphs" >Snc</text>
<polygon points="156,887 164.5,883 164.5,891" fill="#111"/>
<line x1="105" y1="373" x2="544" y2="373" stroke="#666" stroke-width="1.3" stroke-dasharray="1.8 2.7"/>
<line x1="40" y1="741" x2="544" y2="741" stroke="#666" stroke-width="1.3" stroke-dasharray="1.8 2.7"/>
<text x="231.8" y="79.7" font-size="12" fill="#1a1a1a" stroke="#1a1a1a" stroke-width="0.08" font-weight="bold" textLength="112.5" lengthAdjust="spacingAndGlyphs" >Non-marine bivalves</text>
<line x1="299" y1="95.5" x2="299" y2="157" stroke="#ffffff" stroke-width="3.8" opacity="0.85"/>
<line x1="299" y1="95.5" x2="299" y2="157" stroke="#12a03c" stroke-width="2.4" />
<line x1="309" y1="95.5" x2="309" y2="157" stroke="#ffffff" stroke-width="3.8" opacity="0.85"/>
<line x1="309" y1="95.5" x2="309" y2="157" stroke="#12a03c" stroke-width="2.4" />
<line x1="319" y1="95.5" x2="319" y2="506.5" stroke="#ffffff" stroke-width="3.8" opacity="0.85"/>
<line x1="319" y1="95.5" x2="319" y2="506.5" stroke="#12a03c" stroke-width="2.4" />
<line x1="332.4" y1="95.5" x2="332.4" y2="271.6" stroke="#ffffff" stroke-width="3.8" opacity="0.85"/>
<line x1="332.4" y1="95.5" x2="332.4" y2="271.6" stroke="#12a03c" stroke-width="2.4" />
<line x1="332.4" y1="404.8" x2="332.4" y2="425" stroke="#ffffff" stroke-width="3.8" opacity="0.85"/>
<line x1="332.4" y1="404.8" x2="332.4" y2="425" stroke="#12a03c" stroke-width="2.4" />
<line x1="342.4" y1="95.5" x2="342.4" y2="271.6" stroke="#ffffff" stroke-width="3.8" opacity="0.85"/>
<line x1="342.4" y1="95.5" x2="342.4" y2="271.6" stroke="#12a03c" stroke-width="2.4" />
<line x1="342.4" y1="404.8" x2="342.4" y2="425" stroke="#ffffff" stroke-width="3.8" opacity="0.85"/>
<line x1="342.4" y1="404.8" x2="342.4" y2="425" stroke="#12a03c" stroke-width="2.4" />
<line x1="319" y1="533.8" x2="319" y2="544" stroke="#ffffff" stroke-width="3.8" opacity="0.85"/>
<line x1="319" y1="533.8" x2="319" y2="544" stroke="#12a03c" stroke-width="2.4" />
<line x1="319" y1="613.4" x2="319" y2="622.5" stroke="#ffffff" stroke-width="3.8" opacity="0.85"/>
<line x1="319" y1="613.4" x2="319" y2="622.5" stroke="#12a03c" stroke-width="2.4" />
<text transform="translate(302.6,290.8) rotate(-90)" font-size="10.3" fill="#109340" stroke="#109340" stroke-width="0.32" font-style="italic" textLength="130" lengthAdjust="spacingAndGlyphs" >Palaeomutela (Palaeomutela) sp.</text>
<text transform="translate(311.5,294.5) rotate(-90)" font-size="10.3" fill="#109340" stroke="#109340" stroke-width="0.32" font-style="italic" textLength="133.5" lengthAdjust="spacingAndGlyphs" >Palaeomutela (Palaeanodonta) sp.</text>
<text transform="translate(335.4,400.4) rotate(-90)" font-size="10.3" fill="#109340" stroke="#109340" stroke-width="0.32" font-style="italic" textLength="124.4" lengthAdjust="spacingAndGlyphs" >Redikorella sp. (FAD - 465 bed)</text>
<text transform="translate(345.4,398.5) rotate(-90)" font-size="10.3" fill="#109340" stroke="#109340" stroke-width="0.32" font-style="italic" textLength="121.7" lengthAdjust="spacingAndGlyphs" >Anadontella sp. (FAD - 465 bed)</text>
<text transform="translate(323.6,612) rotate(-90)" font-size="10.8" fill="#109340" stroke="#109340" stroke-width="0.32" font-style="italic" textLength="65" lengthAdjust="spacingAndGlyphs" >Khosedaella sp.</text>
<text transform="translate(333.4,610) rotate(-90)" font-size="10.8" fill="#109340" stroke="#109340" stroke-width="0.32" textLength="54.4" lengthAdjust="spacingAndGlyphs" >(FAD 286 bed)</text>
<text transform="translate(300.2,712.3) rotate(-90)" font-size="10.3" fill="#d61f2c" stroke="#d61f2c" stroke-width="0.32" font-style="italic" textLength="89.2" lengthAdjust="spacingAndGlyphs" >Prokopievskia gigantea</text>
<text transform="translate(308.6,716.3) rotate(-90)" font-size="10.3" fill="#d61f2c" stroke="#d61f2c" stroke-width="0.32" textLength="97.9" lengthAdjust="spacingAndGlyphs" >(Ragozin) (LAD 332 bed)</text>
<text x="216.9" y="123.8" font-size="12" fill="#109340" stroke="#109340" stroke-width="0.32" font-style="italic" textLength="77.4" lengthAdjust="spacingAndGlyphs" >Palaeomutela</text>
<text x="222.8" y="135.3" font-size="12" fill="#109340" stroke="#109340" stroke-width="0.32" textLength="65.4" lengthAdjust="spacingAndGlyphs" >assemblage</text>
<text x="219" y="406.8" font-size="12" fill="#109340" stroke="#109340" stroke-width="0.32" font-style="italic" textLength="61" lengthAdjust="spacingAndGlyphs" >Redikorella</text>
<text x="216.6" y="419.3" font-size="12" fill="#109340" stroke="#109340" stroke-width="0.32" textLength="65.4" lengthAdjust="spacingAndGlyphs" >assemblage</text>
<line x1="225.5" y1="156" x2="288.7" y2="156" stroke="#12a03c" stroke-width="3" />
<polygon points="214.5,156 227.5,150.5 224.5,156 227.5,161.5" fill="#12a03c"/>
<line x1="224" y1="426.5" x2="290" y2="426.5" stroke="#12a03c" stroke-width="3" />
<polygon points="213,426.5 226,421.0 223,426.5 226,432.0" fill="#12a03c"/>
<line x1="224" y1="539.5" x2="288.7" y2="539.5" stroke="#d7141c" stroke-width="3" />
<polygon points="213,539.5 226,534.0 223,539.5 226,545.0" fill="#d7141c"/>
<line x1="221" y1="622.4" x2="275" y2="622.4" stroke="#12a03c" stroke-width="3" />
<polygon points="210,622.4 223,616.9 220,622.4 223,627.9" fill="#12a03c"/>
<line x1="225" y1="492" x2="301" y2="492" stroke="#666" stroke-width="1" stroke-dasharray="1.3 1.7"/>
<line x1="225" y1="536" x2="290" y2="536" stroke="#666" stroke-width="1" stroke-dasharray="1.3 1.7"/>
<rect x="222.5" y="492.5" width="3.6" height="43.5" fill="#9e9a3c" />
<text x="229" y="501.5" font-size="11" fill="#333" stroke="#333" stroke-width="0.32" textLength="72" lengthAdjust="spacingAndGlyphs" >Studied section</text>
<text x="235" y="512.2" font-size="11" fill="#333" stroke="#333" stroke-width="0.32" textLength="60" lengthAdjust="spacingAndGlyphs" >with ash bed</text>
<line x1="226" y1="520.8" x2="244" y2="520.8" stroke="#e8262c" stroke-width="1.3" />
<polygon points="255.40,514.00 257.40,519.55 263.29,519.74 258.63,523.35 260.28,529.01 255.40,525.70 250.52,529.01 252.17,523.35 247.51,519.74 253.40,519.55" fill="#e8262c"/>
<text x="267" y="528.3" font-size="15" fill="#e8262c" stroke="#e8262c" stroke-width="0.32" textLength="90.4" lengthAdjust="spacingAndGlyphs" >276.9±0.4 Ma</text>
<text x="222.7" y="560.5" font-size="11.5" fill="#d61f2c" stroke="#d61f2c" stroke-width="0.32" textLength="20.3" lengthAdjust="spacingAndGlyphs" >Last</text>
<text x="222.7" y="574.5" font-size="11.5" fill="#d61f2c" stroke="#d61f2c" stroke-width="0.32" textLength="60" lengthAdjust="spacingAndGlyphs" >Balakhonka</text>
<text x="222.7" y="588.4" font-size="11.5" fill="#d61f2c" stroke="#d61f2c" stroke-width="0.32" textLength="40.9" lengthAdjust="spacingAndGlyphs" >bivalves</text>
<text x="215.6" y="639.7" font-size="11.5" fill="#109340" stroke="#109340" stroke-width="0.32" textLength="20.5" lengthAdjust="spacingAndGlyphs" >First</text>
<text x="215.6" y="653.6" font-size="11.5" fill="#109340" stroke="#109340" stroke-width="0.32" textLength="56.8" lengthAdjust="spacingAndGlyphs" >Kolchugino</text>
<text x="215.6" y="667.5" font-size="11.5" fill="#109340" stroke="#109340" stroke-width="0.32" textLength="40.4" lengthAdjust="spacingAndGlyphs" >bivalves</text>
<line x1="274.5" y1="694" x2="274.5" y2="880.5" stroke="#d7141c" stroke-width="2.4" />
<line x1="281.5" y1="623" x2="281.5" y2="880.5" stroke="#d7141c" stroke-width="2.4" />
<line x1="288" y1="582.5" x2="288" y2="880.5" stroke="#d7141c" stroke-width="2.4" />
<line x1="296.7" y1="539" x2="296.7" y2="616.4" stroke="#d7141c" stroke-width="2.4" />
<line x1="296.7" y1="712.5" x2="296.7" y2="880.5" stroke="#d7141c" stroke-width="2.4" />
<text x="410.5" y="14.2" font-size="11" fill="#1a1a1a" stroke="#1a1a1a" stroke-width="0.08" font-weight="bold" textLength="58.9" lengthAdjust="spacingAndGlyphs" >Vegetation</text>
<line x1="353.7" y1="45.5" x2="353.7" y2="888" stroke="#c4c4c4" stroke-width="1" />
<line x1="414.2" y1="80.5" x2="414.2" y2="888" stroke="#c4c4c4" stroke-width="1" />
<line x1="473.6" y1="80.5" x2="473.6" y2="888" stroke="#c4c4c4" stroke-width="1" />
<line x1="505.3" y1="80.5" x2="505.3" y2="888" stroke="#c4c4c4" stroke-width="1" />
<text transform="translate(384.9,90) rotate(-90)" font-size="12" fill="#222" stroke="#222" stroke-width="0.32" textLength="58.2" lengthAdjust="spacingAndGlyphs" >Cordaitoids</text>
<text transform="translate(448.9,90) rotate(-90)" font-size="12" fill="#222" stroke="#222" stroke-width="0.32" textLength="48.5" lengthAdjust="spacingAndGlyphs" >Ferns and</text>
<text transform="translate(461.3,90) rotate(-90)" font-size="12" fill="#222" stroke="#222" stroke-width="0.32" textLength="61.6" lengthAdjust="spacingAndGlyphs" >sphenopsids</text>
<text transform="translate(498.8,90.5) rotate(-90)" font-size="12" fill="#222" stroke="#222" stroke-width="0.32" textLength="70.2" lengthAdjust="spacingAndGlyphs" >Pteridosperms</text>
<line x1="387.9" y1="96.6" x2="387.9" y2="127.5" stroke="#ffffff" stroke-width="3.8" opacity="0.85"/>
<line x1="387.9" y1="96.6" x2="387.9" y2="127.5" stroke="#12a03c" stroke-width="2.4" />
<line x1="391.4" y1="96.6" x2="391.4" y2="127.5" stroke="#ffffff" stroke-width="3.8" opacity="0.85"/>
<line x1="391.4" y1="96.6" x2="391.4" y2="127.5" stroke="#12a03c" stroke-width="2.4" />
<line x1="395.5" y1="96.6" x2="395.5" y2="175" stroke="#ffffff" stroke-width="3.8" opacity="0.85"/>
<line x1="395.5" y1="96.6" x2="395.5" y2="175" stroke="#12a03c" stroke-width="2.4" />
<line x1="399.1" y1="96.6" x2="399.1" y2="499" stroke="#ffffff" stroke-width="3.8" opacity="0.85"/>
<line x1="399.1" y1="96.6" x2="399.1" y2="499" stroke="#12a03c" stroke-width="2.4" />
<line x1="403" y1="96.6" x2="403" y2="480" stroke="#ffffff" stroke-width="3.8" opacity="0.85"/>
<line x1="403" y1="96.6" x2="403" y2="480" stroke="#12a03c" stroke-width="2.4" />
<line x1="395.5" y1="267.9" x2="395.5" y2="277.7" stroke="#ffffff" stroke-width="3.8" opacity="0.85"/>
<line x1="395.5" y1="267.9" x2="395.5" y2="277.7" stroke="#12a03c" stroke-width="2.4" />
<line x1="406.8" y1="249" x2="406.8" y2="368" stroke="#ffffff" stroke-width="3.8" opacity="0.85"/>
<line x1="406.8" y1="249" x2="406.8" y2="368" stroke="#12a03c" stroke-width="2.4" />
<line x1="376" y1="357.5" x2="376" y2="368" stroke="#ffffff" stroke-width="3.8" opacity="0.85"/>
<line x1="376" y1="357.5" x2="376" y2="368" stroke="#12a03c" stroke-width="2.4" />
<line x1="379.8" y1="357.5" x2="379.8" y2="368" stroke="#ffffff" stroke-width="3.8" opacity="0.85"/>
<line x1="379.8" y1="357.5" x2="379.8" y2="368" stroke="#12a03c" stroke-width="2.4" />
<line x1="383.6" y1="357.5" x2="383.6" y2="368" stroke="#ffffff" stroke-width="3.8" opacity="0.85"/>
<line x1="383.6" y1="357.5" x2="383.6" y2="368" stroke="#12a03c" stroke-width="2.4" />
<line x1="387.4" y1="357.5" x2="387.4" y2="368" stroke="#ffffff" stroke-width="3.8" opacity="0.85"/>
<line x1="387.4" y1="357.5" x2="387.4" y2="368" stroke="#12a03c" stroke-width="2.4" />
<line x1="391.4" y1="357.5" x2="391.4" y2="480" stroke="#ffffff" stroke-width="3.8" opacity="0.85"/>
<line x1="391.4" y1="357.5" x2="391.4" y2="480" stroke="#12a03c" stroke-width="2.4" />
<line x1="395.5" y1="357.5" x2="395.5" y2="499" stroke="#ffffff" stroke-width="3.8" opacity="0.85"/>
<line x1="395.5" y1="357.5" x2="395.5" y2="499" stroke="#12a03c" stroke-width="2.4" />
<line x1="384" y1="408" x2="384" y2="418" stroke="#ffffff" stroke-width="3.8" opacity="0.85"/>
<line x1="384" y1="408" x2="384" y2="418" stroke="#12a03c" stroke-width="2.4" />
<line x1="387.5" y1="418.7" x2="387.5" y2="426.8" stroke="#ffffff" stroke-width="3.8" opacity="0.85"/>
<line x1="387.5" y1="418.7" x2="387.5" y2="426.8" stroke="#12a03c" stroke-width="2.4" />
<line x1="403" y1="493" x2="403" y2="775" stroke="#ffffff" stroke-width="3.8" opacity="0.85"/>
<line x1="403" y1="493" x2="403" y2="775" stroke="#12a03c" stroke-width="2.4" />
<line x1="398.9" y1="582.7" x2="398.9" y2="593.4" stroke="#ffffff" stroke-width="3.8" opacity="0.85"/>
<line x1="398.9" y1="582.7" x2="398.9" y2="593.4" stroke="#12a03c" stroke-width="2.4" />
<line x1="452.5" y1="96.6" x2="452.5" y2="139.5" stroke="#ffffff" stroke-width="3.8" opacity="0.85"/>
<line x1="452.5" y1="96.6" x2="452.5" y2="139.5" stroke="#12a03c" stroke-width="2.4" />
<line x1="456.8" y1="96.6" x2="456.8" y2="117" stroke="#ffffff" stroke-width="3.8" opacity="0.85"/>
<line x1="456.8" y1="96.6" x2="456.8" y2="117" stroke="#12a03c" stroke-width="2.4" />
<line x1="441.25" y1="194.3" x2="441.25" y2="691" stroke="#ffffff" stroke-width="3.8" opacity="0.85"/>
<line x1="441.25" y1="194.3" x2="441.25" y2="691" stroke="#12a03c" stroke-width="2.4" />
<line x1="448.75" y1="194.3" x2="448.75" y2="201" stroke="#ffffff" stroke-width="3.8" opacity="0.85"/>
<line x1="448.75" y1="194.3" x2="448.75" y2="201" stroke="#12a03c" stroke-width="2.4" />
<line x1="448.75" y1="232.9" x2="448.75" y2="330" stroke="#ffffff" stroke-width="3.8" opacity="0.85"/>
<line x1="448.75" y1="232.9" x2="448.75" y2="330" stroke="#12a03c" stroke-width="2.4" />
<line x1="445.2" y1="251" x2="445.2" y2="592.9" stroke="#ffffff" stroke-width="3.8" opacity="0.85"/>
<line x1="445.2" y1="251" x2="445.2" y2="592.9" stroke="#12a03c" stroke-width="2.4" />
<line x1="437.3" y1="609" x2="437.3" y2="803" stroke="#ffffff" stroke-width="3.8" opacity="0.85"/>
<line x1="437.3" y1="609" x2="437.3" y2="803" stroke="#12a03c" stroke-width="2.4" />
<line x1="492.8" y1="96.6" x2="492.8" y2="735" stroke="#ffffff" stroke-width="3.8" opacity="0.85"/>
<line x1="492.8" y1="96.6" x2="492.8" y2="735" stroke="#12a03c" stroke-width="2.4" />
<line x1="496.9" y1="96.6" x2="496.9" y2="127.5" stroke="#ffffff" stroke-width="3.8" opacity="0.85"/>
<line x1="496.9" y1="96.6" x2="496.9" y2="127.5" stroke="#12a03c" stroke-width="2.4" />
<line x1="496.9" y1="398" x2="496.9" y2="593.7" stroke="#ffffff" stroke-width="3.8" opacity="0.85"/>
<line x1="496.9" y1="398" x2="496.9" y2="593.7" stroke="#12a03c" stroke-width="2.4" />
<line x1="500.4" y1="493" x2="500.4" y2="501.7" stroke="#ffffff" stroke-width="3.8" opacity="0.85"/>
<line x1="500.4" y1="493" x2="500.4" y2="501.7" stroke="#12a03c" stroke-width="2.4" />
<line x1="492.8" y1="737.3" x2="492.8" y2="748" stroke="#ffffff" stroke-width="3.8" opacity="0.85"/>
<line x1="492.8" y1="737.3" x2="492.8" y2="748" stroke="#12a03c" stroke-width="2.4" />
<line x1="492.8" y1="751.3" x2="492.8" y2="762.5" stroke="#ffffff" stroke-width="3.8" opacity="0.85"/>
<line x1="492.8" y1="751.3" x2="492.8" y2="762.5" stroke="#12a03c" stroke-width="2.4" />
<line x1="492.8" y1="765.8" x2="492.8" y2="777" stroke="#ffffff" stroke-width="3.8" opacity="0.85"/>
<line x1="492.8" y1="765.8" x2="492.8" y2="777" stroke="#12a03c" stroke-width="2.4" />
<line x1="492.8" y1="780.3" x2="492.8" y2="791" stroke="#ffffff" stroke-width="3.8" opacity="0.85"/>
<line x1="492.8" y1="780.3" x2="492.8" y2="791" stroke="#12a03c" stroke-width="2.4" />
<line x1="492.8" y1="793.7" x2="492.8" y2="805.5" stroke="#ffffff" stroke-width="3.8" opacity="0.85"/>
<line x1="492.8" y1="793.7" x2="492.8" y2="805.5" stroke="#12a03c" stroke-width="2.4" />
<line x1="362" y1="357.5" x2="362" y2="368" stroke="#ffffff" stroke-width="3.8" opacity="0.85"/>
<line x1="362" y1="357.5" x2="362" y2="368" stroke="#d7141c" stroke-width="2.4" />
<line x1="365.7" y1="357.5" x2="365.7" y2="406" stroke="#ffffff" stroke-width="3.8" opacity="0.85"/>
<line x1="365.7" y1="357.5" x2="365.7" y2="406" stroke="#d7141c" stroke-width="2.4" />
<line x1="368.7" y1="357.5" x2="368.7" y2="887" stroke="#ffffff" stroke-width="3.8" opacity="0.85"/>
<line x1="368.7" y1="357.5" x2="368.7" y2="887" stroke="#d7141c" stroke-width="2.4" />
<line x1="372.7" y1="410.4" x2="372.7" y2="887" stroke="#ffffff" stroke-width="3.8" opacity="0.85"/>
<line x1="372.7" y1="410.4" x2="372.7" y2="887" stroke="#d7141c" stroke-width="2.4" />
<line x1="376.4" y1="492.9" x2="376.4" y2="887" stroke="#ffffff" stroke-width="3.8" opacity="0.85"/>
<line x1="376.4" y1="492.9" x2="376.4" y2="887" stroke="#d7141c" stroke-width="2.4" />
<line x1="380" y1="492.9" x2="380" y2="502.7" stroke="#ffffff" stroke-width="3.8" opacity="0.85"/>
<line x1="380" y1="492.9" x2="380" y2="502.7" stroke="#d7141c" stroke-width="2.4" />
<line x1="383.6" y1="492.9" x2="383.6" y2="502.7" stroke="#ffffff" stroke-width="3.8" opacity="0.85"/>
<line x1="383.6" y1="492.9" x2="383.6" y2="502.7" stroke="#d7141c" stroke-width="2.4" />
<line x1="380" y1="748" x2="380" y2="887" stroke="#ffffff" stroke-width="3.8" opacity="0.85"/>
<line x1="380" y1="748" x2="380" y2="887" stroke="#d7141c" stroke-width="2.4" />
<line x1="364.5" y1="791" x2="364.5" y2="887" stroke="#ffffff" stroke-width="3.8" opacity="0.85"/>
<line x1="364.5" y1="791" x2="364.5" y2="887" stroke="#d7141c" stroke-width="2.4" />
<line x1="384" y1="859.7" x2="384" y2="887" stroke="#ffffff" stroke-width="3.8" opacity="0.85"/>
<line x1="384" y1="859.7" x2="384" y2="887" stroke="#d7141c" stroke-width="2.4" />
<line x1="423" y1="803" x2="423" y2="886" stroke="#ffffff" stroke-width="3.8" opacity="0.85"/>
<line x1="423" y1="803" x2="423" y2="886" stroke="#d7141c" stroke-width="2.4" />
<line x1="427" y1="809" x2="427" y2="886" stroke="#ffffff" stroke-width="3.8" opacity="0.85"/>
<line x1="427" y1="809" x2="427" y2="886" stroke="#d7141c" stroke-width="2.4" />
<line x1="430.8" y1="809" x2="430.8" y2="886" stroke="#ffffff" stroke-width="3.8" opacity="0.85"/>
<line x1="430.8" y1="809" x2="430.8" y2="886" stroke="#d7141c" stroke-width="2.4" />
<text transform="translate(527.1,303.7) rotate(-90)" font-size="13.7" fill="#1a1a1a" stroke="#1a1a1a" stroke-width="0.08" font-weight="bold" textLength="150.9" lengthAdjust="spacingAndGlyphs" >Mitinian regional stage</text>
<text transform="translate(527.1,654.8) rotate(-90)" font-size="13.7" fill="#1a1a1a" stroke="#1a1a1a" stroke-width="0.08" font-weight="bold" textLength="209.8" lengthAdjust="spacingAndGlyphs" >Starokuznetskian regional stage</text>
<text transform="translate(527.1,885) rotate(-90)" font-size="13.7" fill="#1a1a1a" stroke="#1a1a1a" stroke-width="0.08" font-weight="bold" textLength="138" lengthAdjust="spacingAndGlyphs" >Usinian regional stage</text>
<rect x="211.5" y="747.5" width="135.5" height="114" fill="#ffffff" stroke="#8a8a8a" stroke-width="1" />
<text x="215.6" y="761.4" font-size="10" fill="#1a1a1a" stroke="#1a1a1a" stroke-width="0.08" font-weight="bold" textLength="121.6" lengthAdjust="spacingAndGlyphs" >Legend and abbreviations</text>
<rect x="216.5" y="770.3" width="10.099999999999994" height="7.2000000000000455" fill="#1e1e1e" />
<text x="227.9" y="776.3" font-size="8.6" fill="#333" stroke="#333" stroke-width="0.12" textLength="28.9" lengthAdjust="spacingAndGlyphs" >Coal (C)</text>
<rect x="216.5" y="777.5" width="17.099999999999994" height="8.100000000000023" fill="#13877b" />
<text x="235" y="784.2" font-size="8.6" fill="#333" stroke="#333" stroke-width="0.12" textLength="65" lengthAdjust="spacingAndGlyphs" >Siltstone fine (Slf)</text>
<rect x="216.5" y="785.6" width="24.0" height="7.199999999999932" fill="#b0c9c0" />
<text x="242.6" y="791.9" font-size="8.6" fill="#333" stroke="#333" stroke-width="0.12" textLength="46.8" lengthAdjust="spacingAndGlyphs" >Siltstone (Sl)</text>
<rect x="216.5" y="792.8" width="31.19999999999999" height="7.7000000000000455" fill="#bec26f" />
<text x="249.4" y="799.6" font-size="8.6" fill="#333" stroke="#333" stroke-width="0.12" textLength="72.6" lengthAdjust="spacingAndGlyphs" >Siltstone coarse (Slc)</text>
<rect x="216.5" y="800.5" width="41.30000000000001" height="7.2999999999999545" fill="#ffee00" />
<text x="260.4" y="807.2" font-size="8.6" fill="#333" stroke="#333" stroke-width="0.12" textLength="74.8" lengthAdjust="spacingAndGlyphs" >Sandstone fine (Snf)</text>
<rect x="216.5" y="807.8" width="49.0" height="8.400000000000091" fill="#ffee00" />
<text x="266.5" y="814.4" font-size="8.6" fill="#333" stroke="#333" stroke-width="0.12" textLength="77.9" lengthAdjust="spacingAndGlyphs" >Sandstone coarse (Snc)</text>
<text x="224.3" y="826.7" font-size="9" fill="#1a1a1a" stroke="#1a1a1a" stroke-width="0.08" font-weight="bold" textLength="112.5" lengthAdjust="spacingAndGlyphs" >Ranges of vegetation taxa</text>
<line x1="219.8" y1="827" x2="219.8" y2="842" stroke="#12a03c" stroke-width="2.4" />
<line x1="219.8" y1="844.7" x2="219.8" y2="859" stroke="#d7141c" stroke-width="2.4" />
<text x="224.3" y="839.2" font-size="9" fill="#333" stroke="#333" stroke-width="0.12" textLength="68" lengthAdjust="spacingAndGlyphs" >Kolchugino taxa</text>
<text x="224.3" y="855" font-size="9.5" fill="#333" stroke="#333" stroke-width="0.12" textLength="70" lengthAdjust="spacingAndGlyphs" >Balakhonka taxa</text>
<rect x="210.8" y="882.2" width="128.2" height="13" fill="#ffffff" />
<text x="221" y="891.5" font-size="11.5" fill="#333" stroke="#333" stroke-width="0.32" textLength="110.4" lengthAdjust="spacingAndGlyphs" >Aralicheva 1 coal seam</text>
</svg></body></html>
